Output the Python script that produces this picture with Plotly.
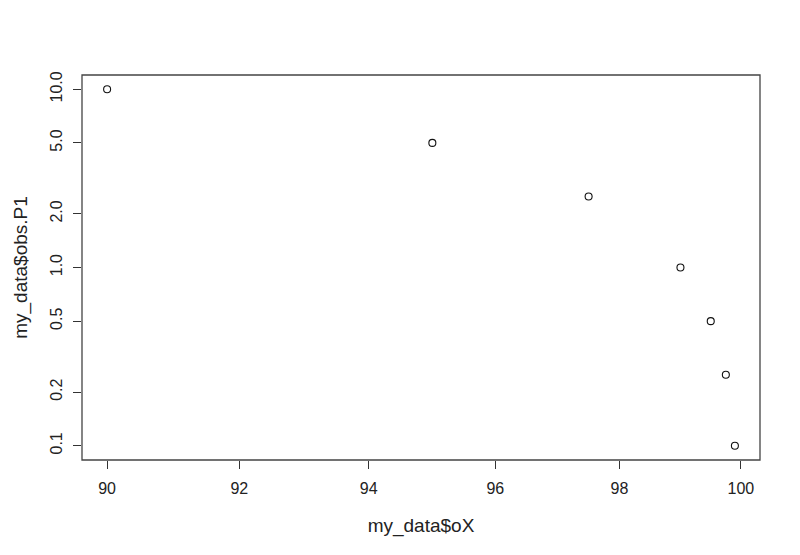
import math
import plotly.graph_objects as go

# data (log-log plot)
ox = [90, 95, 97.5, 99, 99.5, 99.75, 99.9]
obs_p1 = [10, 5, 2.5, 1, 0.5, 0.25, 0.1]

x_ticks = [90, 92, 94, 96, 98, 100]
y_ticks = [0.1, 0.2, 0.5, 1, 2, 5, 10]
y_tick_labels = ["0.1", "0.2", "0.5", "1.0", "2.0", "5.0", "10.0"]

# page body has an 8px margin, so the figure is a bit smaller than the window
W, H = 792, 547
ML, MR, MT, MB = 67, 40, 67, 95


def log_range(vals):
    # R style: extend data range by 4% on each side
    lo, hi = math.log10(min(vals)), math.log10(max(vals))
    pad = (hi - lo) * 0.04
    return [lo - pad, hi + pad]


fig = go.Figure()
fig.add_trace(go.Scatter(
    x=ox,
    y=obs_p1,
    mode='markers',
    marker=dict(symbol='circle-open', size=7, color='#111111', line=dict(width=1.1)),
    showlegend=False,
))

font = dict(family='Liberation Sans, Arial, sans-serif', size=16, color='#222222')

fig.update_layout(
    width=W,
    height=H,
    margin=dict(l=ML, r=MR, t=MT, b=MB),
    plot_bgcolor='white',
    paper_bgcolor='white',
    font=font,
    xaxis=dict(
        type='log',
        range=log_range(ox),
        tickmode='array',
        tickvals=x_ticks,
        ticktext=[str(v) for v in x_ticks],
        ticks='outside',
        ticklen=8,
        tickcolor='#333333',
        showgrid=False,
        zeroline=False,
        showline=False,
        ticklabelstandoff=6,
        title=dict(text='my_data$oX', standoff=22),
    ),
    yaxis=dict(
        type='log',
        range=log_range(obs_p1),
        tickmode='array',
        tickvals=y_ticks,
        ticktext=y_tick_labels,
        tickangle=-90,
        ticks='outside',
        ticklen=8,
        tickcolor='#333333',
        showgrid=False,
        zeroline=False,
        showline=False,
        ticklabelstandoff=5,
        title=dict(text='my_data$obs.P1', standoff=14),
    ),
)

# plot box
fig.add_shape(type='rect', xref='paper', yref='paper', x0=0, y0=0, x1=1, y1=1,
              line=dict(color='#444444', width=1.3))

# dark edge at the right of the picture
pw = W - ML - MR
ph = H - MT - MB
fig.add_shape(type='rect', xref='paper', yref='paper', layer='above',
              x0=(788 - ML) / pw, x1=(790 - ML) / pw,
              y0=-MB / ph + 0.001, y1=1 + MT / ph - 0.001,
              fillcolor='#333333', line=dict(width=0))

fig.write_html("out.html")
